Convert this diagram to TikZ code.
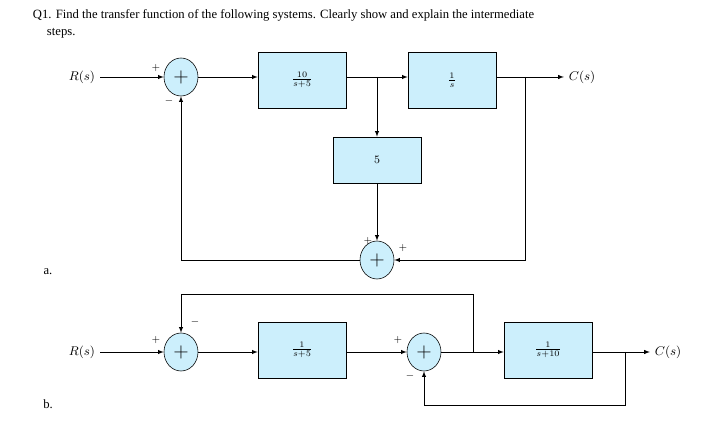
\documentclass[tikz,border=0pt]{standalone}
\usepackage{fontspec}
\setmainfont{Liberation Serif}
\usetikzlibrary{arrows,shapes,calc}

\begin{document}
\begin{tikzpicture}[x=0.025cm, y=-0.025cm, thin, >=latex,
  block/.style={rectangle, draw=black, fill=cyan!20, minimum width=2.2cm, minimum height=1.4cm, font=\footnotesize},
  sum/.style={ellipse, draw=black, fill=cyan!20, minimum width=0.85cm, minimum height=0.95cm, inner sep=0pt, font=\Large},
  sgn/.style={font=\scriptsize, inner sep=1pt}]
  \useasboundingbox (0,0) rectangle (710,431);

  \node[anchor=west, font=\small] at (28,15) (title) {Q1. Find the transfer function of the following systems. Clearly show and explain the intermediate};
  \node[anchor=west, font=\small] at (42,33) (title2) {steps.};

  % part a
  \node[font=\small] at (82,77) (Ra) {$R(s)$};
  \node[sum] at (181,77) (sa) {$+$};
  \node[block] at (302,80) (ga) {$\frac{10}{s+5}$};
  \node[block] at (452,80) (ia) {$\frac{1}{s}$};
  \node[block, minimum height=1.15cm] at (377,160) (ka) {$5$};
  \node[sum] at (377,260) (ta) {$+$};
  \node[font=\small] at (582,77) (Ca) {$C(s)$};
  \coordinate (ba) at (377,77);
  \coordinate (oa) at (525,77);
  \node[font=\small] at (48,272) (la) {a.};

  \draw[->] (Ra) -- (sa);
  \draw[->] (sa) -- (ga.west |- sa);
  \draw (ga.east |- ba) -- (ba);
  \draw[->] (ba) -- (ia.west |- ba);
  \draw[->] (ia.east |- oa) -- (Ca);
  \draw[->] (ba) -- (ka);
  \draw[->] (ka) -- (ta);
  \draw[->] (oa) |- (ta);
  \draw[->] (ta) -| (sa);
  \node[sgn] at (156,68) {$+$};
  \node[sgn] at (169,101) {$-$};
  \node[sgn] at (368,241) {$+$};
  \node[sgn] at (403,248) {$+$};

  % part b
  \node[font=\small] at (82,352) (Rb) {$R(s)$};
  \node[sum] at (181,352) (sb) {$+$};
  \node[block] at (302,350) (gb) {$\frac{1}{s+5}$};
  \node[sum] at (424,352) (tb) {$+$};
  \node[block] at (548,350) (hb) {$\frac{1}{s+10}$};
  \node[font=\small] at (668,352) (Cb) {$C(s)$};
  \coordinate (bb) at (473,352);
  \coordinate (ob) at (625,352);
  \node[font=\small] at (48,404) (lb) {b.};

  \draw[->] (Rb) -- (sb);
  \draw[->] (sb) -- (gb.west |- sb);
  \draw[->] (gb.east |- tb) -- (tb);
  \draw (tb) -- (bb);
  \draw[->] (bb) -- (hb.west |- bb);
  \draw[->] (hb.east |- ob) -- (Cb);
  \draw[->] (bb) -- (473,294) -| (sb);
  \draw[->] (ob) -- (625,405) -| (tb);
  \node[sgn] at (156,340) {$+$};
  \node[sgn] at (195,322) {$-$};
  \node[sgn] at (398,340) {$+$};
  \node[sgn] at (410,376) {$-$};
\end{tikzpicture}
\end{document}
